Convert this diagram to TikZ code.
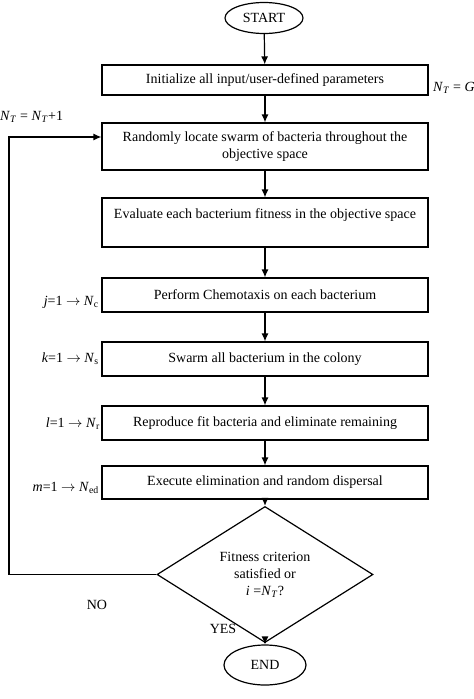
\documentclass[tikz,border=0pt]{standalone}
\usepackage{fontspec}
\setmainfont{Liberation Serif}
\usetikzlibrary{shapes.geometric, arrows.meta}

\newcommand{\NTsym}{\textit{N}\textsubscript{\textit{T}}}

\begin{document}
\begin{tikzpicture}[x=1pt, y=-1pt,
		font=\fontsize{14}{17}\selectfont,
		every node/.style={inner sep=0pt},
		process/.style={draw, line width=1.2pt, minimum width=326pt, minimum height=34pt, align=center},
		terminal/.style={draw, ellipse, line width=1.2pt},
		decision/.style={draw, diamond, line width=1.2pt, minimum width=216pt, minimum height=87pt, align=center},
		counter/.style={anchor=east},
		flow/.style={-{Latex[length=8pt,width=7pt]}, line width=1.2pt}]
		\useasboundingbox (0,0) rectangle (474,699);
		% terminals and steps
		\node [terminal, minimum width=78pt, minimum height=31pt] (start) at (264,18) {START};
		\node [process, minimum height=30pt] (init) at (265,80) {Initialize all input/user-defined parameters};
		\node [process, minimum height=47pt] (locate) at (265,146.5) {Randomly locate swarm of bacteria throughout the\\ objective space};
		\node [process, minimum height=49pt] (evaluate) at (265,222.5) {Evaluate each bacterium fitness in the objective space\\ \mbox{}};
		\node [process] (chemo) at (265,295) {Perform Chemotaxis on each bacterium};
		\node [process] (swarm) at (265,359) {Swarm all bacterium in the colony};
		\node [process] (repro) at (265,423) {Reproduce fit bacteria and eliminate remaining};
		\node [process, minimum height=33pt] (disperse) at (265,482.5) {Execute elimination and random dispersal};
		\node [decision] (check) at (265,574.5) {Fitness criterion\\ satisfied or\\ \textit{i} =\NTsym?};
		\node [terminal, minimum width=82pt, minimum height=40pt] (end) at (265,665) {END};
		% loop counters
		\node [counter] (jloop) at (99,302) {\textit{j}=1 $\rightarrow$ \textit{N}\textsubscript{c}};
		\node [counter] (kloop) at (99,359) {\textit{k}=1 $\rightarrow$ \textit{N}\textsubscript{s}};
		\node [counter] (lloop) at (100,424) {\textit{l}=1 $\rightarrow$ \textit{N}\textsubscript{r}};
		\node [counter] (mloop) at (99,488) {\textit{m}=1 $\rightarrow$ \textit{N}\textsubscript{ed}};
		\node [anchor=west] (ntinit) at (433,88) {\NTsym{} = \textit{G}};
		\node [anchor=west] (ntstep) at (0,117) {\NTsym{} = \NTsym+1};
		\node (no) at (97,605) {NO};
		\node (yes) at (223,629) {YES};
		% connectors
		\draw [flow] (start) -- (init);
		\draw [flow] (init) -- (locate);
		\draw [flow] (locate) -- (evaluate);
		\draw [flow] (evaluate) -- (chemo);
		\draw [flow] (chemo) -- (swarm);
		\draw [flow] (swarm) -- (repro);
		\draw [flow] (repro) -- (disperse);
		\draw [flow] (disperse) -- (check);
		\draw [flow] (check) -- (end);
		\coordinate (loopbot) at (9,574.5);
		\coordinate (looptop) at (9,137);
		\draw [flow] (check.west) -- (loopbot) -- (looptop) -- (locate.west |- looptop);
	\end{tikzpicture}
\end{document}
